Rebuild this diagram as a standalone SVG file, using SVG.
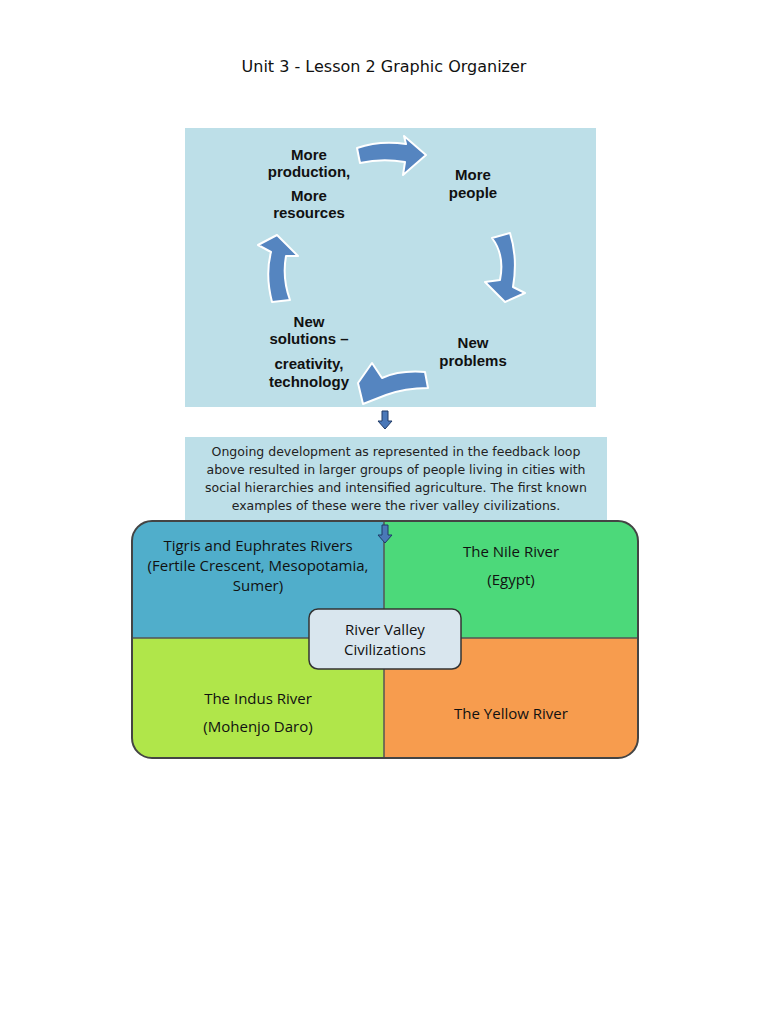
<svg xmlns="http://www.w3.org/2000/svg" width="768" height="1024" viewBox="0 0 768 1024">
<style>
.loop{font-family:"Liberation Sans",Arial,sans-serif;font-weight:bold;font-size:15px;fill:#111;text-anchor:middle}
.para{font-family:"DejaVu Sans",sans-serif;font-size:12.5px;fill:#222;text-anchor:middle}
.q{font-family:"Open Sans","DejaVu Sans",sans-serif;font-size:15px;fill:#111;text-anchor:middle}
.arr{fill:#5585c0;stroke:#fff;stroke-width:2;stroke-linejoin:round}
.down{fill:#4a78b8;stroke:#1f3a66;stroke-width:1}
</style>
<rect width="768" height="1024" fill="#fff"/>
<text x="384" y="72" font-family="DejaVu Sans,sans-serif" font-size="16" text-anchor="middle" fill="#111">Unit 3 - Lesson 2 Graphic Organizer</text>
<g id="loop">
<rect x="185" y="128" width="411" height="279" fill="#bddfe8"/>
<g id="n1"><text class="loop" x="309" y="160">More</text><text class="loop" x="309" y="177">production,</text><text class="loop" x="309" y="201">More</text><text class="loop" x="309" y="218">resources</text></g>
<g id="n2"><text class="loop" x="473" y="180">More</text><text class="loop" x="473" y="198">people</text></g>
<g id="n3"><text class="loop" x="473" y="348">New</text><text class="loop" x="473" y="366">problems</text></g>
<g id="n4"><text class="loop" x="309" y="327">New</text><text class="loop" x="309" y="344">solutions –</text><text class="loop" x="309" y="369">creativity,</text><text class="loop" x="309" y="387">technology</text></g>
</g>
<g id="connectors">
<path class="arr" d="M357,148 Q380,140 406,144 L404,136 L426,155 L403,175 L405,162 Q382,158 360,163 Z"/>
<path class="arr" d="M492,238 Q505,255 500,280 L485,282 L505,302 L525,293 L513,287 Q518,258 510,233 Z"/>
<path class="arr" d="M425,372 Q400,370 382,378 L372,363 L358,383 L363,404 L386,395 Q405,388 428,388 Z"/>
<path class="arr" d="M272,302 Q265,275 271,252 L258,245 L277,235 L298,256 L286,256 Q282,278 290,300 Z"/>
<path class="down" d="M382,411 H388 V421 H392 L385,429 L378,421 H382 Z"/>
</g>
<g id="para">
<rect x="185" y="437" width="422" height="84" fill="#bddfe8"/>
<text class="para" x="396" y="456">Ongoing development as represented in the feedback loop</text>
<text class="para" x="396" y="474">above resulted in larger groups of people living in cities with</text>
<text class="para" x="396" y="492">social hierarchies and intensified agriculture.  The first known</text>
<text class="para" x="396" y="510">examples of these were the river valley civilizations.</text>
</g>
<g id="grid">
<defs><clipPath id="c"><rect x="132" y="521" width="506" height="237" rx="20"/></clipPath></defs>
<g clip-path="url(#c)">
<rect x="132" y="521" width="252" height="117" fill="#50aecb"/>
<rect x="384" y="521" width="254" height="117" fill="#4cd97a"/>
<rect x="132" y="638" width="252" height="120" fill="#b0e64a"/>
<rect x="384" y="638" width="254" height="120" fill="#f79c4e"/>
<line x1="384" y1="521" x2="384" y2="758" stroke="#555" stroke-width="1.5"/>
<line x1="132" y1="638" x2="638" y2="638" stroke="#555" stroke-width="1.5"/>
</g>
<rect x="132" y="521" width="506" height="237" rx="20" fill="none" stroke="#444" stroke-width="2"/>
<g id="q1"><text class="q" x="258" y="551">Tigris and Euphrates Rivers</text><text class="q" x="258" y="571">(Fertile Crescent, Mesopotamia,</text><text class="q" x="258" y="591">Sumer)</text></g>
<g id="q2"><text class="q" x="511" y="557">The Nile River</text><text class="q" x="511" y="585">(Egypt)</text></g>
<g id="q3"><text class="q" x="258" y="704">The Indus River</text><text class="q" x="258" y="732">(Mohenjo Daro)</text></g>
<g id="q4"><text class="q" x="511" y="719">The Yellow River</text></g>
<path class="down" d="M382,525 H388 V535 H392 L385,543 L378,535 H382 Z"/>
<g id="center"><rect x="309" y="609" width="152" height="60" rx="9" fill="#d9e6ee" stroke="#333" stroke-width="1.5"/>
<text class="q" x="385" y="635">River Valley</text><text class="q" x="385" y="655">Civilizations</text></g>
</g>
</svg>
